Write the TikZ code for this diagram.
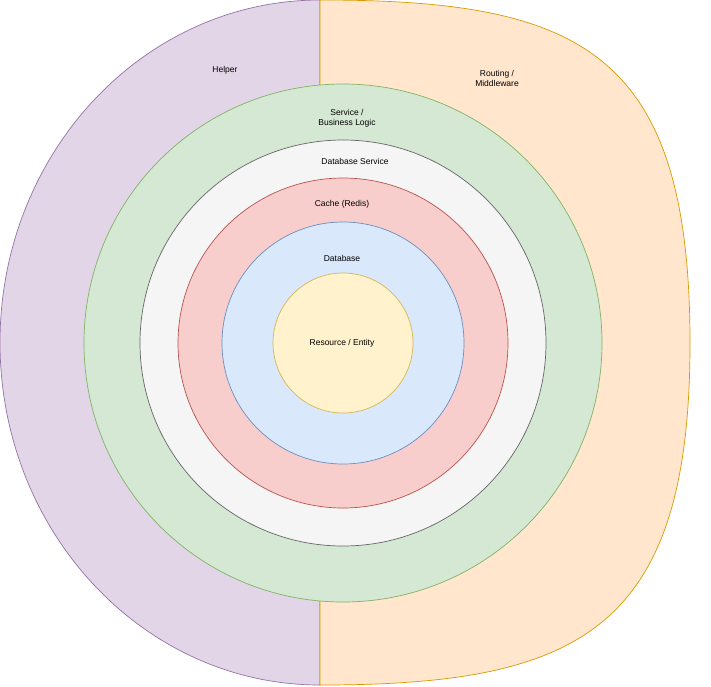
\documentclass[tikz,border=0pt]{standalone}
\usepackage{fontspec}
\setmainfont{Liberation Sans}
\begin{document}
\begin{tikzpicture}[x=1pt,y=-1pt,
  ring/.style={line width=0.7pt},
  lbl/.style={font=\fontsize{8.5}{10}\selectfont, align=center}]
\useasboundingbox (0,0) rectangle (711,686);
\definecolor{pf}{HTML}{E1D5E7}\definecolor{ps}{HTML}{9673A6}
\definecolor{of}{HTML}{FFE6CC}\definecolor{os}{HTML}{D79B00}
\definecolor{gf}{HTML}{D5E8D4}\definecolor{gs}{HTML}{82B366}
\definecolor{sf}{HTML}{F5F5F5}\definecolor{ss}{HTML}{666666}
\definecolor{rf}{HTML}{F8CECC}\definecolor{rs}{HTML}{B85450}
\definecolor{bf}{HTML}{DAE8FC}\definecolor{bs}{HTML}{6C8EBF}
\definecolor{yf}{HTML}{FFF2CC}\definecolor{ys}{HTML}{D6B656}
\draw[ring,fill=pf,draw=ps] (320,0) arc[start angle=90,end angle=270,x radius=320,y radius=-342.5] -- cycle;
\draw[ring,fill=of,draw=os] (320,0) .. controls (580,0) and (690,50) .. (690,343) .. controls (690,630) and (580,685) .. (320,685) -- cycle;
\draw[ring,fill=gf,draw=gs] (343,343) circle[radius=259];
\draw[ring,fill=sf,draw=ss] (343,343) circle[radius=203];
\draw[ring,fill=rf,draw=rs] (343,343) circle[radius=165];
\draw[ring,fill=bf,draw=bs] (343,343) circle[radius=121];
\draw[ring,fill=yf,draw=ys] (343,343) circle[radius=70];
\node[lbl] (helper) at (225,70) {Helper};
\node[lbl] (routing) at (497,78) {Routing /\\Middleware};
\node[lbl] (service) at (347,118) {Service /\\Business Logic};
\node[lbl] (dbs) at (355,161) {Database Service};
\node[lbl] (cache) at (342,204) {Cache (Redis)};
\node[lbl] (db) at (342,258) {Database};
\node[lbl] (res) at (342,343) {Resource / Entity};
\end{tikzpicture}
\end{document}
